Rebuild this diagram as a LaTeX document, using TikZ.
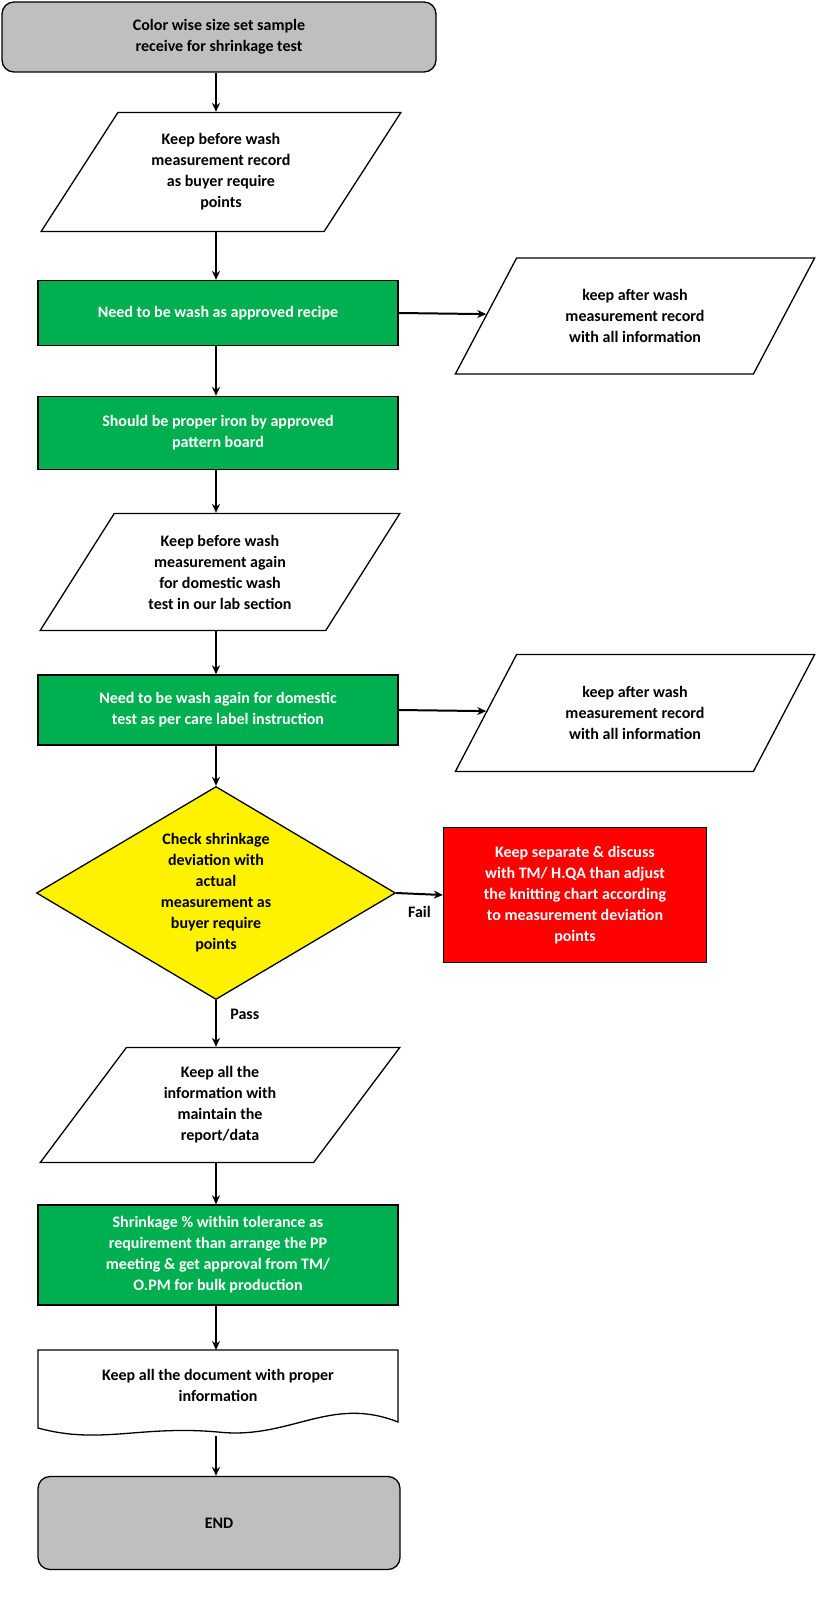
\documentclass[tikz,border=0pt]{standalone}
\usepackage{fontspec}
\setmainfont{Carlito}
\usetikzlibrary{shapes.geometric,arrows.meta}
\begin{document}
\begin{tikzpicture}[x=1pt,y=-1pt,
  base/.style={draw=black,line width=1.3pt,font=\bfseries\fontsize{16}{21}\selectfont,align=center,inner sep=0pt},
  term/.style={base,rounded corners=12pt,fill=black!25,minimum width=#1},
  gbox/.style={base,fill=green!50!black!60!teal!0,fill={rgb,255:red,0;green,176;blue,80},text=white,minimum width=360pt},
  para/.style={base,trapezium,trapezium left angle=56,trapezium right angle=124,trapezium stretches=true,fill=white,minimum width=360pt},
  arr/.style={line width=2pt,-{Stealth[length=9pt,width=8pt]}},
  lab/.style={font=\bfseries\fontsize{16}{20}\selectfont}]
\useasboundingbox (0,0) rectangle (838,1600);
\node[term=434pt,minimum height=70pt] (start) at (219,37) {Color wise size set sample\\receive for shrinkage test};
\node[para,minimum height=119pt] (p1) at (221,172) {Keep before wash\\measurement record\\as buyer require\\points};
\node[gbox,minimum height=65pt] (g1) at (218,313) {Need to be wash as approved recipe};
\node[para,minimum height=116pt] (r1) at (635,316) {keep after wash\\measurement record\\with all information};
\node[gbox,minimum height=73pt] (g2) at (218,433) {Should be proper iron by approved\\pattern board};
\node[para,minimum height=117pt] (p2) at (220,572) {Keep before wash\\measurement again\\for domestic wash\\test in our lab section};
\node[gbox,minimum height=70pt] (g3) at (218,710) {Need to be wash again for domestic\\test as per care label instruction};
\node[para,minimum height=117pt] (r2) at (635,713) {keep after wash\\measurement record\\with all information};
\node[base,diamond,fill=yellow,minimum width=359pt,minimum height=213pt] (d) at (216,893) {};
\node[base,draw=none,text=black,align=center] (dt) at (216,893) {Check shrinkage\\deviation with\\actual\\measurement as\\buyer require\\points};
\node[base,fill=red,text=white,minimum width=263pt,minimum height=135pt] (red) at (575,895) {Keep separate \& discuss\\with TM/ H.QA than adjust\\the knitting chart according\\to measurement deviation\\points};
\node[para,minimum height=115pt] (p3) at (220,1105) {Keep all the\\information with\\maintain the\\report/data};
\node[gbox,minimum height=100pt] (g4) at (218,1255) {Shrinkage \% within tolerance as\\requirement than arrange the PP\\meeting \& get approval from TM/\\O.PM for bulk production};
\draw[line width=1.3pt,fill=white] (38,1350) -- (398,1350) -- (398,1422) .. controls (330,1395) and (290,1440) .. (218,1432) .. controls (140,1425) and (100,1445) .. (38,1428) -- cycle;
\node[base,draw=none] (doc) at (218,1385) {Keep all the document with proper\\information};
\node[term=362pt,minimum height=93pt] (end) at (219,1523) {END};
\coordinate (docb) at (216,1436);
\draw[arr] (start.south -| 216,0) -- (p1.north -| 216,0);
\draw[arr] (p1.south -| 216,0) -- (g1.north -| 216,0);
\draw[arr] (g1.south -| 216,0) -- (g2.north -| 216,0);
\draw[arr] (g2.south -| 216,0) -- (p2.north -| 216,0);
\draw[arr] (p2.south -| 216,0) -- (g3.north -| 216,0);
\draw[arr] (g3.south -| 216,0) -- (d.north);
\draw[arr] (d.south) -- (p3.north -| 216,0) node[pos=0.3,right=10pt,lab]{Pass};
\draw[arr] (p3.south -| 216,0) -- (g4.north -| 216,0);
\draw[arr] (g4.south -| 216,0) -- (216,1350);
\draw[arr] (docb) -- (end.north -| 216,0);
\draw[arr] (g1.east) -- (r1);
\draw[arr] (g3.east) -- (r2);
\draw[arr] (d.east) -- (red.west) node[midway,below=8pt,lab]{Fail};
\end{tikzpicture}
\end{document}
